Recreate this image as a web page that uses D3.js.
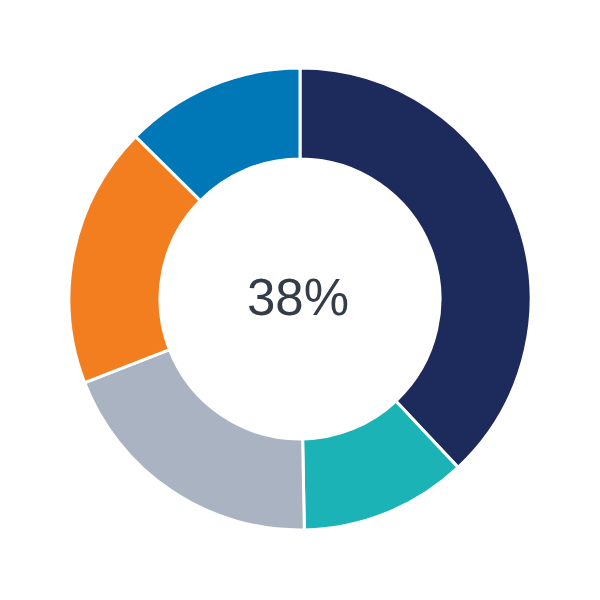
<!DOCTYPE html>
<html>
<head>
<meta charset="utf-8">
<script src="https://cdn.jsdelivr.net/npm/d3@7"></script>
<style>
  html, body { margin: 0; padding: 0; background: #fff; }
</style>
</head>
<body>
<div id="chart"></div>
<script>
const categories = ["A", "B", "C", "D", "E"];
const values = [38, 11.7, 19.4, 18.3, 12.6];
const colors = ["#1c2b5b", "#1bb3b6", "#a9b3c1", "#f37e20", "#0077b6"];
const centerLabel = "38%";

const width = 600;
const height = 600;

const svg = d3.select("#chart")
    .append("svg")
    .attr("width", width)
    .attr("height", height);

const g = svg.append("g")
    .attr("transform", `translate(300,299)`);

const pie = d3.pie().sort(null).value(d => d);
const arc = d3.arc().innerRadius(140).outerRadius(231);

const color = d3.scaleOrdinal().domain(categories).range(colors);

g.selectAll("path")
    .data(pie(values))
    .enter().append("path")
    .attr("d", arc)
    .attr("fill", (d, i) => color(categories[i]))
    .attr("stroke", "#fff")
    .attr("stroke-width", 3);

g.append("text")
    .attr("x", -2)
    .attr("y", 16)
    .attr("text-anchor", "middle")
    .attr("font-family", "Liberation Sans, Arial, sans-serif")
    .attr("font-size", 51)
    .attr("fill", "#343d47")
    .text(centerLabel);
</script>
</body>
</html>
